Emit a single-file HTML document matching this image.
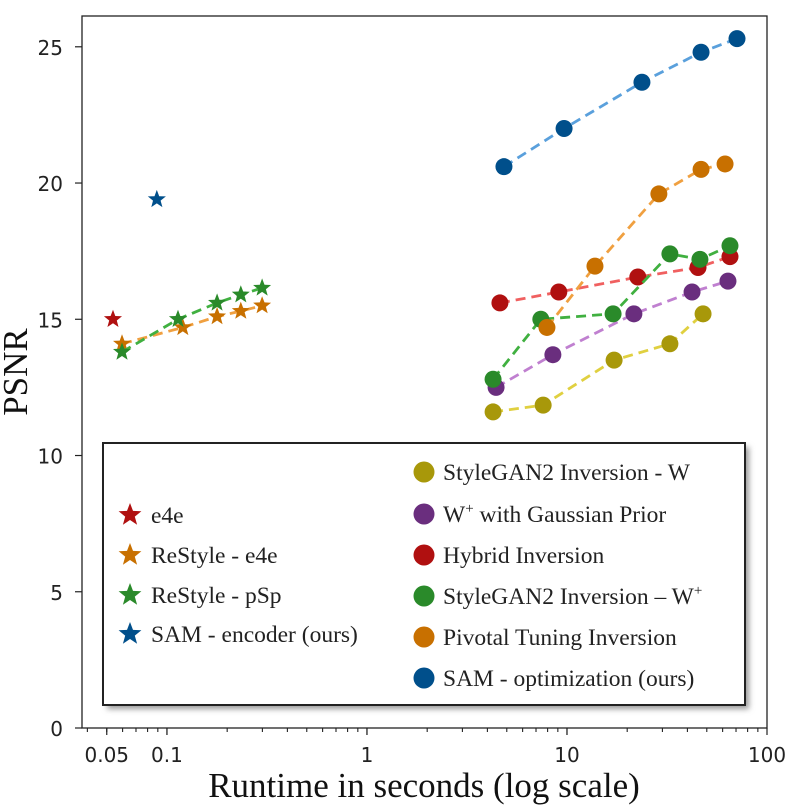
<!DOCTYPE html>
<html><head><meta charset="utf-8"><style>
body{margin:0;background:#fff;}
svg{display:block;}
</style></head><body>
<svg id="chart" width="804" height="805" xmlns="http://www.w3.org/2000/svg">
<defs>
<filter id="sh" x="-5%" y="-5%" width="115%" height="115%"><feGaussianBlur stdDeviation="3"/></filter>
</defs>
<g id="plot"></g>
</svg>
<script>
// ---- data ----
const yTicks = [0, 5, 10, 15, 20, 25];
const xTickMajor = [0.05, 0.1, 1, 10, 100];
const xTickLabels = ["0.05", "0.1", "1", "10", "100"];

const e4eX = [0.0537]; const e4eY = [15.0];
const samEncX = [0.089]; const samEncY = [19.4];
const restyleE4eX = [0.0596, 0.12, 0.178, 0.234, 0.299];
const restyleE4eY = [14.1, 14.7, 15.1, 15.3, 15.5];
const restylePspX = [0.0596, 0.1135, 0.178, 0.234, 0.299];
const restylePspY = [13.8, 15.0, 15.6, 15.9, 16.15];

const yellowX = [4.27, 7.6, 17.2, 32.7, 47.9];
const yellowY = [11.6, 11.85, 13.5, 14.1, 15.2];
const purpleX = [4.42, 8.5, 21.6, 42.2, 63.8];
const purpleY = [12.5, 13.7, 15.2, 16.0, 16.4];
const redX = [4.62, 9.1, 22.6, 45.2, 65.3];
const redY = [15.6, 16.0, 16.55, 16.9, 17.3];
const greenX = [4.27, 7.4, 17.0, 32.7, 46.2, 65.3];
const greenY = [12.8, 15.0, 15.2, 17.4, 17.2, 17.7];
const orangeX = [7.94, 13.8, 28.8, 46.8, 61.7];
const orangeY = [14.7, 16.95, 19.6, 20.5, 20.7];
const blueX = [4.84, 9.67, 23.7, 46.8, 70.8];
const blueY = [20.6, 22.0, 23.7, 24.8, 25.3];

// ---- axes ----
const L=82,R=767,T=16,B=728;
const xmin=Math.log10(0.0376), xmax=2, ymin=0, ymax=26.13;
const sx=v=>L+(Math.log10(v)-xmin)/(xmax-xmin)*(R-L);
const sy=v=>B-(v-ymin)/(ymax-ymin)*(B-T);
const NS="http://www.w3.org/2000/svg";
const g=document.getElementById('plot');
function mk(tag,attrs,parent){const e=document.createElementNS(NS,tag);for(const k in attrs)e.setAttribute(k,attrs[k]);(parent||g).appendChild(e);return e;}
function starPts(cx,cy,r){let p=[];for(let i=0;i<10;i++){const a=-Math.PI/2+i*Math.PI/5;const rr=i%2?r*0.42:r;p.push((cx+rr*Math.cos(a)).toFixed(1)+','+(cy+rr*Math.sin(a)).toFixed(1));}return p.join(' ');}

// frame
const fr=mk('rect',{x:L,y:T,width:R-L,height:B-T,fill:'none',stroke:'#222','stroke-width':1.3});



// y ticks
yTicks.forEach(v=>{
  const t=mk('line',{x1:L-7,x2:L,y1:sy(v),y2:sy(v),stroke:'#222','stroke-width':1.2});
  
  
  const tx=mk('text',{x:L-19,y:sy(v)+8,'text-anchor':'end','font-family':'DejaVu Sans, sans-serif','font-size':20,fill:'#222'});
  tx.textContent=v;
  
  
});
// x minor ticks
for(let d=-2;d<=1;d++){for(let m=1;m<=9;m++){const v=m*Math.pow(10,d);if(v<0.0376||v>100)continue;
  const major=(m===1);
  const t=mk('line',{x1:sx(v),x2:sx(v),y1:B,y2:B+(major?7:4),stroke:'#222','stroke-width':1.1});
  
  
}}
xTickMajor.forEach((v,i)=>{
  const t=mk('line',{x1:sx(v),x2:sx(v),y1:B,y2:B+7,stroke:'#222','stroke-width':1.2});
  
  
  const tx=mk('text',{x:sx(v),y:B+34,'text-anchor':'middle','font-family':'DejaVu Sans, sans-serif','font-size':20,fill:'#222'});
  tx.textContent=xTickLabels[i];
  
  
});
const xt=mk('text',{x:424,y:797,'text-anchor':'middle','font-family':'Liberation Serif, serif','font-size':35,fill:'#111'});
xt.textContent='Runtime in seconds (log scale)';


const yt=mk('text',{x:0,y:0,'text-anchor':'middle','font-family':'Liberation Serif, serif','font-size':35,fill:'#111',transform:'translate(27,372) rotate(-90)'});
yt.textContent='PSNR';



// series
function series(name,xs,ys,line,mark,kind){
  const grp=mk('g',{});
  
  
  if(xs.length>1){
    const pl=mk('polyline',{points:xs.map((x,i)=>sx(x)+','+sy(ys[i])).join(' '),fill:'none',stroke:line,'stroke-width':2.8,'stroke-dasharray':'10,6'},grp);
    
    
  }
  xs.forEach((x,i)=>{
    let m;
    if(kind==='star') m=mk('polygon',{points:starPts(sx(x),sy(ys[i]),9.5),fill:mark},grp);
    else m=mk('circle',{cx:sx(x),cy:sy(ys[i]),r:8.5,fill:mark},grp);
    
    
  });
}
series('restyle-e4e',restyleE4eX,restyleE4eY,'#f0a040','#c87000','star');
series('restyle-psp',restylePspX,restylePspY,'#40b040','#2a8a2a','star');
series('e4e',e4eX,e4eY,'#f06060','#b01010','star');
series('sam-encoder',samEncX,samEncY,'#5aa0dc','#004f8b','star');
series('stylegan2-w',yellowX,yellowY,'#e0d040','#a8980a','circle');
series('w-plus-gaussian',purpleX,purpleY,'#c080d0','#6a2e7e','circle');
series('hybrid-inversion',redX,redY,'#f06060','#b01010','circle');
series('stylegan2-w-plus',greenX,greenY,'#40b040','#2a8a2a','circle');
series('pivotal-tuning',orangeX,orangeY,'#f0a040','#c87000','circle');
series('sam-optimization',blueX,blueY,'#5aa0dc','#004f8b','circle');

// legend
const lg=mk('g',{});


mk('rect',{x:107,y:447,width:642,height:262,fill:'#999',filter:'url(#sh)'},lg);
const lb=mk('rect',{x:103,y:443,width:642,height:262,fill:'#fff',stroke:'#222','stroke-width':2},lg);


const leftEntries=[['e4e','#b01010',515],['ReStyle - e4e','#c87000',555],['ReStyle - pSp','#2a8a2a',595],['SAM - encoder (ours)','#004f8b',634]];
leftEntries.forEach(e=>{
  const s=mk('polygon',{points:starPts(130,e[2],12),fill:e[1]},lg);
  
  
  const t=mk('text',{x:151,y:e[2]+8,'font-family':'Liberation Serif, serif','font-size':23.5,fill:'#222'},lg);
  t.textContent=e[0];
  
  
});
const rightEntries=[['StyleGAN2 Inversion - W','#a8980a',472],['W<tspan dy="-9" font-size="15">+</tspan><tspan dy="9"> with Gaussian Prior</tspan>','#6a2e7e',514],['Hybrid Inversion','#b01010',555],['StyleGAN2 Inversion – W<tspan dy="-9" font-size="15">+</tspan>','#2a8a2a',596],['Pivotal Tuning Inversion','#c87000',637],['SAM - optimization (ours)','#004f8b',678]];
rightEntries.forEach(e=>{
  const c=mk('circle',{cx:424,cy:e[2],r:10.5,fill:e[1]},lg);
  
  
  const t=mk('text',{x:443,y:e[2]+8,'font-family':'Liberation Serif, serif','font-size':23.5,fill:'#222'},lg);
  t.innerHTML=e[0];
  
  
});
</script>
</body></html>
